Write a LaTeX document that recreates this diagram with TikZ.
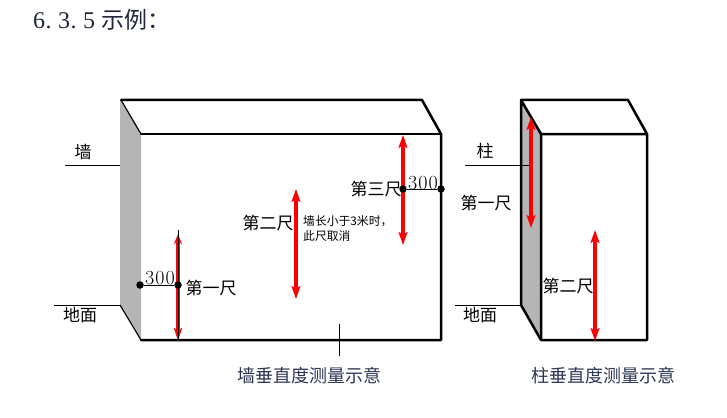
\documentclass[tikz,border=0pt]{standalone}
\usepackage{fontspec}
\setmainfont{Liberation Serif}
\newfontfamily\cjk{Noto Sans CJK SC}
\usetikzlibrary{arrows.meta}
\definecolor{wallgray}{RGB}{181,181,181}
\definecolor{capblue}{RGB}{45,55,85}
\tikzset{
 edgeline/.style={line width=2.5pt,line cap=round,line join=round},
 thinedge/.style={line width=1.2pt},
 leader/.style={line width=1pt},
 rod/.style={red,line width=3.5pt,{Stealth[length=13pt,width=9pt,inset=3pt]}-{Stealth[length=13pt,width=9pt,inset=3pt]}},
 lbl/.style={inner sep=0pt,font=\cjk\fontsize{17}{18}\selectfont},
 note/.style={inner sep=0pt,anchor=west,font=\cjk\fontsize{11.8}{12}\selectfont},
 num/.style={inner sep=0pt,font=\fontfamily{lmr}\fontsize{20}{20}\selectfont},
 captext/.style={inner sep=0pt,text=capblue,font=\cjk\fontsize{18}{20}\selectfont},
 dot/.style={circle,fill=black,minimum size=7.5pt,inner sep=0pt}
}
\newcommand{\dg}[1]{\makebox[12.5pt][l]{#1}}
\begin{document}
\begin{tikzpicture}[x=1pt,y=-1pt]
\useasboundingbox (0,0) rectangle (727,417);
\fill[white] (0,0) rectangle (727,417);
\node[inner sep=0pt,anchor=west,text=capblue!70!black] (title) at (33,20)
  {\fontsize{24}{26}\selectfont \dg{6}\dg{.}\dg{3}\dg{.}\dg{5}\hspace{6pt}{\cjk\fontsize{23}{26}\selectfont 示例：}};
% wall
\fill[wallgray] (120,100) -- (141,134) -- (141,340) -- (120,305) -- cycle;
\coordinate (wa) at (121,100); \coordinate (wb) at (422,100);
\coordinate (wc) at (141,134); \coordinate (wd) at (441,134);
\coordinate (we) at (441,340); \coordinate (wf) at (141,340);
\coordinate (wg) at (120,305);
\draw[edgeline] (wa) -- (wb) -- (wd) -- (we) -- (wf);
\draw[edgeline] (wc) -- (wd);
\draw[thinedge] (wa) -- (wc);
\draw[thinedge] (wg) -- (wf);
\coordinate (l1) at (65,165); \coordinate (l1e) at (120,165);
\coordinate (l2) at (54,305);
\draw[leader] (l1) -- (l1e);
\draw[leader] (l2) -- (wg);
\node[lbl] (t1) at (83,152) {墙};
\node[lbl] (t2) at (80,315) {地面};
\coordinate (tk1) at (339,324); \coordinate (tk2) at (339,356);
\draw[leader] (tk1) -- (tk2);
% first rod
\coordinate (r1a) at (178,234); \coordinate (r1b) at (178,341);
\coordinate (r1t) at (178,230);
\draw[red,line width=3.5pt,{Stealth[length=10pt,width=8pt,inset=3pt]}-{Stealth[length=13pt,width=8pt,inset=3pt]}] (r1a) -- (r1b);
\draw[line width=0.9pt] (r1t) -- (r1b);
\node[dot] (d1) at (140,285) {};
\node[dot] (d2) at (178,285) {};
\draw[leader] (d1) -- (d2);
\node[num] (n1) at (160,278) {3\kern1pt 0\kern1pt 0};
\node[lbl] (t3) at (211,288) {第一尺};
% second rod
\coordinate (r2a) at (296,189); \coordinate (r2b) at (296,299);
\draw[rod] (r2a) -- (r2b);
\node[lbl] (t4) at (268,223) {第二尺};
\node[note] (t5) at (303,221) {墙长小于3米时，};
\node[note] (t5b) at (303,236) {此尺取消};
% third rod
\coordinate (r3a) at (403,135); \coordinate (r3b) at (403,245);
\draw[rod] (r3a) -- (r3b);
\node[dot] (d3) at (403,189) {};
\node[dot] (d4) at (441,189) {};
\draw[leader] (d3) -- (d4);
\node[num] (n2) at (423,183) {3\kern1pt 0\kern1pt 0};
\node[lbl] (t6) at (376,189) {第三尺};
% column
\fill[wallgray] (521,100) -- (541,134) -- (541,340) -- (521,305) -- cycle;
\coordinate (ca) at (521,100); \coordinate (cb) at (628,100);
\coordinate (cc) at (541,134); \coordinate (cd) at (647,134);
\coordinate (ce) at (647,340); \coordinate (cf) at (541,340);
\coordinate (cg) at (521,305);
\draw[edgeline] (ca) -- (cb) -- (cd) -- (ce) -- (cf) -- (cc) -- (cd);
\draw[edgeline] (cc) -- (ca) -- (cg) -- (cf);
\coordinate (l3) at (465,165); \coordinate (l3e) at (531,165);
\coordinate (l4) at (455,305);
\draw[leader] (l3) -- (l3e);
\draw[leader] (l4) -- (cg);
\node[lbl] (t7) at (485,151) {柱};
\node[lbl] (t8) at (480,315) {地面};
\node[lbl] (t9) at (486,203) {第一尺};
\coordinate (r4a) at (531,117); \coordinate (r4b) at (531,228);
\draw[rod] (r4a) -- (r4b);
\coordinate (r5a) at (595,230); \coordinate (r5b) at (595,341);
\draw[rod] (r5a) -- (r5b);
\node[lbl] (t10) at (568,286) {第二尺};
% captions
\node[captext] (c1) at (309,376) {墙垂直度测量示意};
\node[captext] (c2) at (603,376) {柱垂直度测量示意};
\end{tikzpicture}
\end{document}
